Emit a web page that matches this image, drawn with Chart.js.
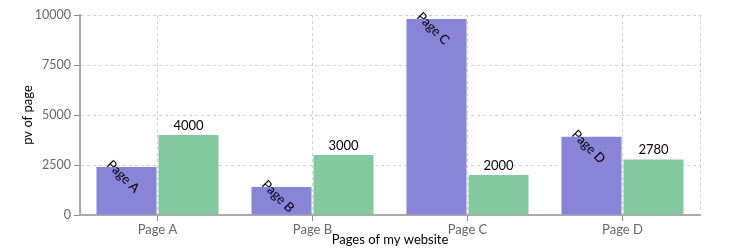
<!DOCTYPE html>
<html>
<head>
<meta charset="utf-8">
<script src="https://cdn.jsdelivr.net/npm/chart.js@4/dist/chart.umd.min.js"></script>
<style>
html,body{margin:0;padding:0;background:#fff;}
#wrap{width:730px;height:250px;position:relative;}
</style>
</head>
<body>
<div id="wrap"><canvas id="c"></canvas></div>
<script>
const categories = ['Page A', 'Page B', 'Page C', 'Page D'];
const pvValues = [2400, 1398, 9800, 3908];
const uvValues = [4000, 3000, 2000, 2780];
const yTicks = [0, 2500, 5000, 7500, 10000];

const FONT = 'Lato, "Noto Sans", sans-serif';

const labelPlugin = {
  id: 'barLabels',
  beforeDatasetsDraw(chart) {
    // dashed right edge of the grid
    const ctx = chart.ctx, a = chart.chartArea;
    ctx.save();
    ctx.strokeStyle = '#d0d0d0';
    ctx.lineWidth = 1;
    ctx.setLineDash([3, 3]);
    ctx.beginPath();
    ctx.moveTo(Math.round(a.right) + 0.5, a.top);
    ctx.lineTo(Math.round(a.right) + 0.5, a.bottom);
    ctx.stroke();
    ctx.restore();
  },
  afterDatasetsDraw(chart) {
    const ctx = chart.ctx;
    ctx.save();
    ctx.fillStyle = '#000';
    ctx.font = '13px ' + FONT;
    const m0 = chart.getDatasetMeta(0);
    m0.data.forEach((bar, i) => {
      const left = bar.x - bar.width / 2;
      ctx.save();
      ctx.translate(left + 12.5, bar.y - 4.5);
      ctx.rotate(Math.PI / 4);
      ctx.textAlign = 'left';
      ctx.textBaseline = 'middle';
      ctx.fillText(categories[i], 0, 0);
      ctx.restore();
    });
    const m1 = chart.getDatasetMeta(1);
    m1.data.forEach((bar, i) => {
      ctx.textAlign = 'center';
      ctx.textBaseline = 'bottom';
      ctx.fillText(String(uvValues[i]), bar.x, bar.y - 3);
    });
    ctx.restore();
  }
};

new Chart(document.getElementById('c'), {
  type: 'bar',
  data: {
    labels: categories,
    datasets: [
      { label: 'pv', data: pvValues, backgroundColor: '#8884d8', categoryPercentage: 0.8, barPercentage: 0.968 },
      { label: 'uv', data: uvValues, backgroundColor: '#82ca9d', categoryPercentage: 0.8, barPercentage: 0.968 }
    ]
  },
  options: {
    responsive: true,
    maintainAspectRatio: false,
    animation: false,
    layout: { padding: { top: 15, right: 30, left: 0, bottom: 0 } },
    plugins: { legend: { display: false }, tooltip: { enabled: false } },
    scales: {
      x: {
        afterFit(s) { s.height = 35; },
        grid: { offset: false, color: '#d0d0d0', tickColor: '#888', tickLength: 6, tickBorderDash: [], lineWidth: 1, tickWidth: 1 },
        border: { display: true, color: '#aaa', width: 2, dash: [3, 3] },
        ticks: { color: '#666', padding: 1, font: { family: FONT, size: 13 } },
        title: { display: true, text: 'Pages of my website', color: '#000', font: { family: FONT, size: 13 }, padding: { top: 0, bottom: 2 } }
      },
      y: {
        min: 0, max: 10000,
        afterFit(s) { s.width = 80; },
        afterBuildTicks(s) { s.ticks = yTicks.map(v => ({ value: v })); },
        grid: { color: '#d0d0d0', tickColor: '#888', tickLength: 6, tickBorderDash: [], lineWidth: 1, tickWidth: 1 },
        border: { display: true, color: '#aaa', width: 2, dash: [3, 3] },
        ticks: { color: '#666', padding: 3, font: { family: FONT, size: 12.5 }, callback: v => String(v) },
        title: { display: true, text: 'pv of page', color: '#000', font: { family: FONT, size: 13 }, padding: { top: 20, bottom: 0 } }
      }
    }
  },
  plugins: [labelPlugin]
});
</script>
</body>
</html>
